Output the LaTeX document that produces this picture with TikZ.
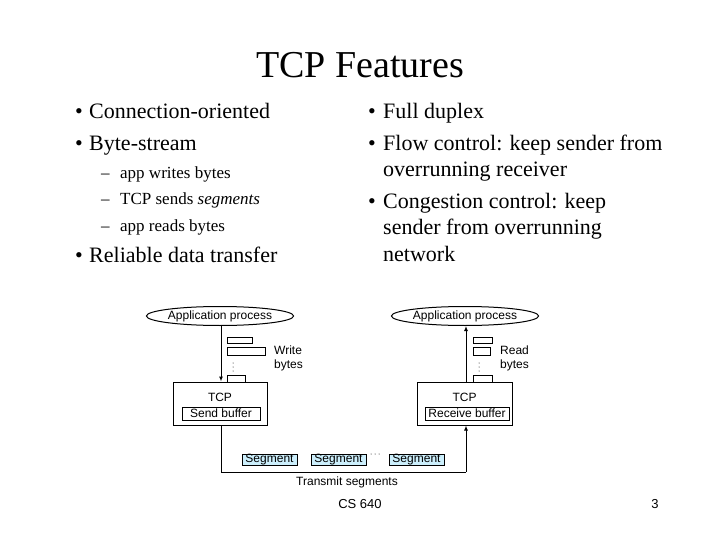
\documentclass[tikz,border=0pt]{standalone}
\usepackage{fontspec}
\setmainfont{Liberation Serif}
\newfontfamily\arialf{Liberation Sans}
\usetikzlibrary{shapes.geometric,arrows.meta}
\begin{document}
\begin{tikzpicture}[x=1pt,y=-1pt,
  big/.style={anchor=base west,inner sep=0,font=\fontsize{22}{26}\selectfont},
  sub/.style={anchor=base west,inner sep=0,font=\fontsize{17}{20}\selectfont},
  lab/.style={inner sep=0,font=\arialf\fontsize{12}{14}\selectfont},
  box/.style={draw,line width=1pt,inner sep=0},
  sm/.style={draw,line width=1pt},
  dot/.style={fill,radius=0.6pt},
  seg/.style={draw,line width=0.8pt,fill=cyan!20,inner sep=0,minimum width=55pt,minimum height=11pt,font=\arialf\fontsize{12}{14}\selectfont},
  arr/.style={line width=1pt,-{Latex[length=5pt,width=4pt]}}]
\useasboundingbox (0,0) rectangle (720,540);
\node[anchor=base,inner sep=0,font=\fontsize{38}{42}\selectfont] (title) at (360,78) {TCP Features};
% left column
\node[big] (b1) at (75,119) {•};\node[big] (t1) at (89,119) {Connection-oriented};
\node[big] (b2) at (75,151) {•};\node[big] (t2) at (89,151) {Byte-stream};
\node[sub] (d1) at (101,179) {–};\node[sub] (s1) at (120,179) {app writes bytes};
\node[sub] (d2) at (101,205) {–};\node[sub] (s2) at (120,205) {TCP sends \textit{segments}};
\node[sub] (d3) at (101,232) {–};\node[sub] (s3) at (120,232) {app reads bytes};
\node[big] (b3) at (75,262) {•};\node[big] (t3) at (89,262) {Reliable data transfer};
% right column
\node[big] (r1) at (368,119) {•};\node[big] (u1) at (383,119) {Full duplex};
\node[big] (r2) at (368,151) {•};\node[big] (u2) at (383,151) {Flow control: keep sender from};
\node[big] (u3) at (383,177) {overrunning receiver};
\node[big] (r3) at (368,209) {•};\node[big] (u4) at (383,209) {Congestion control: keep};
\node[big] (u5) at (383,235) {sender from overrunning};
\node[big] (u6) at (383,261) {network};
% diagram
\node[draw,line width=1pt,ellipse,minimum width=116pt,minimum height=19pt,inner sep=0,font=\arialf\fontsize{12}{14}\selectfont] (la) at (220,316) {Application process};
\node[draw,line width=1pt,ellipse,minimum width=116pt,minimum height=19pt,inner sep=0,font=\arialf\fontsize{12}{14}\selectfont] (ra) at (465,316) {Application process};
\node[box,minimum width=94pt,minimum height=43pt] (lt) at (220,403.5) {};
\node[box,minimum width=95pt,minimum height=43pt] (rt) at (464.5,403.5) {};
\node[lab] (ltl) at (220,397) {TCP};
\node[lab] (rtl) at (464.5,397) {TCP};
\node[sm,minimum width=78pt,minimum height=13pt,inner sep=0,lab] (sb) at (221,413.5) {Send buffer};
\node[sm,minimum width=84pt,minimum height=13pt,inner sep=0,lab] (rb) at (467,413.5) {Receive buffer};
\draw[arr] (la.south -| 221,0) -- (lt.north -| 221,0);
\draw[arr] (rt.north -| 466,0) -- (ra.south -| 466,0);
\draw[sm] (227,337) rectangle (252,343) (227,347) rectangle (265,355) (227,375) rectangle (245,382);
\draw[sm] (473,337) rectangle (492,343) (473,347) rectangle (490,355) (473,375) rectangle (492,382);
\fill (233,363) circle[radius=0.5pt] (233,367) circle[radius=0.5pt] (233,371) circle[radius=0.5pt];
\fill (479,363) circle[radius=0.5pt] (479,367) circle[radius=0.5pt] (479,371) circle[radius=0.5pt];
\fill (371,454) circle[radius=0.5pt] (375,454) circle[radius=0.5pt] (379,454) circle[radius=0.5pt];
\node[lab,anchor=west,align=left] (wb) at (274,358.5) {Write\\bytes};
\node[lab,anchor=west,align=left] (rdb) at (500,358.5) {Read\\bytes};
\coordinate (c1) at (221,472);
\coordinate (c2) at (466,472);
\draw[line width=1pt] (lt.south -| 221,0) -- (c1) -- (c2);
\draw[arr] (c2) -- (rt.south -| 466,0);
\node[seg] (s1n) at (269.5,460) {Segment};
\node[seg] (s2n) at (338.5,460) {Segment};
\node[seg] (s3n) at (416.5,460) {Segment};
\node[lab] (ts) at (347,482) {Transmit segments};
\node[lab,font=\arialf\fontsize{13}{15}\selectfont] (cs) at (360,504) {CS 640};
\node[lab,font=\arialf\fontsize{13}{15}\selectfont] (pg) at (655,504) {3};
\end{tikzpicture}
\end{document}
